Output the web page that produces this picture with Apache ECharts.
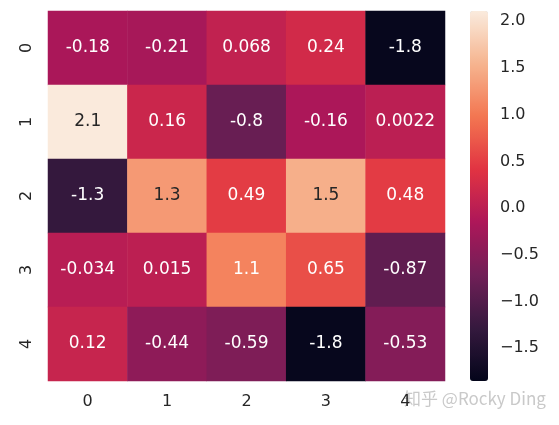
<!DOCTYPE html>
<html>
<head>
<meta charset="utf-8">
<script src="https://cdn.jsdelivr.net/npm/echarts@6/dist/echarts.min.js"></script>
<style>
html,body{margin:0;padding:0;background:#fff;}
#chart{width:559px;height:425px;}
</style>
</head>
<body>
<div id="chart"></div>
<script>
// ---- data ----
var xCategories = ['0', '1', '2', '3', '4'];
var yCategories = ['0', '1', '2', '3', '4'];
var row0 = [-0.18, -0.21, 0.068, 0.24, -1.8];
var row1 = [2.1, 0.16, -0.8, -0.16, 0.0022];
var row2 = [-1.3, 1.3, 0.49, 1.5, 0.48];
var row3 = [-0.034, 0.015, 1.1, 0.65, -0.87];
var row4 = [0.12, -0.44, -0.59, -1.8, -0.53];
var colorbarTicks = [-1.5, -1.0, -0.5, 0.0, 0.5, 1.0, 1.5, 2.0];
var colorMin = -1.85;
var colorMax = 2.11;

var rows = [row0, row1, row2, row3, row4];
var rocket = ['#03051a', '#35193e', '#701f57', '#ad1759', '#e13342', '#f37651', '#f6b48f', '#faebdd'];

function hexToRgb(h) {
  return [parseInt(h.substr(1, 2), 16), parseInt(h.substr(3, 2), 16), parseInt(h.substr(5, 2), 16)];
}
function colorAt(v) {
  var t = (v - colorMin) / (colorMax - colorMin);
  t = Math.max(0, Math.min(1, t));
  var p = t * (rocket.length - 1);
  var i = Math.min(Math.floor(p), rocket.length - 2);
  var f = p - i;
  var a = hexToRgb(rocket[i]), b = hexToRgb(rocket[i + 1]);
  return [0, 1, 2].map(function (k) { return a[k] + (b[k] - a[k]) * f; });
}
function relLum(rgb) {
  var c = rgb.map(function (x) {
    x = x / 255;
    return x <= 0.03928 ? x / 12.92 : Math.pow((x + 0.055) / 1.055, 2.4);
  });
  return 0.2126 * c[0] + 0.7152 * c[1] + 0.0722 * c[2];
}
function fmt2g(v) {
  return String(parseFloat(v.toPrecision(2)));
}

var heatData = [];
rows.forEach(function (row, yi) {
  row.forEach(function (v, xi) {
    var lum = relLum(colorAt(v));
    heatData.push({
      value: [xi, yi, v],
      label: { color: lum > 0.408 ? '#262626' : '#ffffff' }
    });
  });
});

var chart = echarts.init(document.getElementById('chart'), null, { renderer: 'canvas' });
var FONT = 'DejaVu Sans';
var option = {
  animation: false,
  backgroundColor: '#ffffff',
  grid: [
    { left: 48, top: 11, width: 397, height: 370, containLabel: false, outerBoundsMode: 'none' },
    { left: 470, top: 11, width: 18, height: 370, containLabel: false, outerBoundsMode: 'none' }
  ],
  xAxis: [
    {
      type: 'category', gridIndex: 0, data: xCategories, position: 'bottom',
      axisLine: { show: false }, axisTick: { show: false }, splitLine: { show: false },
      axisLabel: { color: '#262626', fontSize: 16, fontFamily: FONT, margin: 13 }
    },
    {
      type: 'value', gridIndex: 1, show: false, min: 0, max: 1
    }
  ],
  yAxis: [
    {
      type: 'category', gridIndex: 0, data: yCategories, inverse: true,
      axisLine: { show: false }, axisTick: { show: false }, splitLine: { show: false },
      axisLabel: { color: '#262626', fontSize: 16, fontFamily: FONT, rotate: 90, margin: 13 }
    },
    {
      type: 'value', gridIndex: 1, position: 'right', min: colorMin, max: colorMax,
      axisLine: { show: false },
      splitLine: { show: false },
      axisTick: { show: true, length: 5, lineStyle: { color: '#262626', width: 1.2 }, customValues: colorbarTicks },
      axisLabel: {
        show: true, color: '#262626', fontSize: 16, fontFamily: FONT, margin: 12,
        customValues: colorbarTicks,
        formatter: function (v) { return v.toFixed(1).replace('-', '\u2212'); }
      }
    }
  ],
  visualMap: {
    type: 'continuous',
    seriesIndex: 0,
    min: colorMin,
    max: colorMax,
    calculable: false,
    realtime: false,
    orient: 'vertical',
    left: 470,
    top: 11,
    padding: 0,
    itemWidth: 18,
    itemHeight: 370,
    text: null,
    showLabel: false,
    hoverLink: false,
    inRange: { color: rocket }
  },
  series: [
    {
      type: 'heatmap',
      xAxisIndex: 0, yAxisIndex: 0,
      data: heatData,
      label: {
        show: true, fontSize: 17, fontFamily: FONT,
        formatter: function (p) { return fmt2g(p.value[2]); }
      },
      itemStyle: { borderWidth: 0 },
      emphasis: { disabled: true },
      progressive: 0
    },
    {
      type: 'line', xAxisIndex: 1, yAxisIndex: 1, data: [], silent: true
    }
  ],
  graphic: [
    {
      type: 'text', left: 404, top: 390, silent: true,
      style: { text: '知乎 @Rocky Ding', fill: '#c9c9c9', font: '17px "Noto Sans CJK SC", "DejaVu Sans"' }
    }
  ]
};
chart.setOption(option);
</script>
</body>
</html>
